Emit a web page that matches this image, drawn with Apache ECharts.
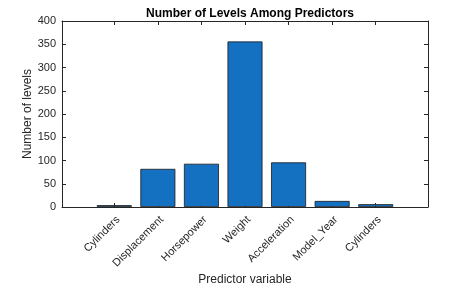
<!DOCTYPE html>
<html>
<head>
<meta charset="utf-8">
<script src="https://cdn.jsdelivr.net/npm/echarts@6/dist/echarts.min.js"></script>
<style>
  html, body { margin: 0; padding: 0; background: #fff; }
  #main { width: 474px; height: 285px; }
</style>
</head>
<body>
<div id="main"></div>
<script>
// 各预测变量的水平数
const predictors = ["Cylinders", "Displacement", "Horsepower", "Weight", "Acceleration", "Model_Year", "Cylinders"];
const levelCounts = [4, 82, 93, 356, 96, 13, 6];
const yTicks = [0, 50, 100, 150, 200, 250, 300, 350, 400];

const positions = predictors.map((p, i) => i + 1);
const axisColor = "#262626";
const font = "Liberation Sans, Arial, sans-serif";

const myChart = echarts.init(document.getElementById("main"));
const option = {
  animation: false,
  title: {
    text: "Number of Levels Among Predictors",
    left: 245,
    top: 3,
    textAlign: "center",
    textStyle: { fontFamily: font, fontSize: 12, fontWeight: "bold", color: "#000" }
  },
  grid: { left: 62, right: 46, top: 21, bottom: 78, outerBoundsMode: "none", containLabel: false },
  xAxis: [
    {
      type: "value",
      min: -0.2,
      max: 8.2,
      name: "Predictor variable",
      nameLocation: "middle",
      nameGap: 67,
      nameMoveOverlap: false,
      nameTextStyle: { fontFamily: font, fontSize: 12, color: axisColor },
      axisLine: { show: true, onZero: false, lineStyle: { color: axisColor, width: 1 } },
      axisTick: { inside: true, length: 4, customValues: positions, lineStyle: { color: axisColor } },
      axisLabel: {
        customValues: positions,
        rotate: 45,
        margin: 7,
        verticalAlign: "top",
        fontFamily: font,
        fontSize: 11,
        color: axisColor,
        formatter: v => predictors[Math.round(v) - 1] || ""
      },
      splitLine: { show: false }
    },
    {
      type: "value",
      position: "top",
      min: -0.2,
      max: 8.2,
      axisLine: { show: true, onZero: false, lineStyle: { color: axisColor, width: 1 } },
      axisTick: { inside: true, length: 4, customValues: positions, lineStyle: { color: axisColor } },
      axisLabel: { show: false },
      splitLine: { show: false }
    }
  ],
  yAxis: [
    {
      type: "value",
      min: 0,
      max: 400,
      interval: 50,
      name: "Number of levels",
      nameLocation: "middle",
      nameGap: 28,
      nameMoveOverlap: false,
      nameTextStyle: { fontFamily: font, fontSize: 12, color: axisColor },
      axisLine: { show: true, onZero: false, lineStyle: { color: axisColor, width: 1 } },
      axisTick: { show: true, inside: true, length: 4, lineStyle: { color: axisColor } },
      axisLabel: {
        fontFamily: font, fontSize: 11, color: axisColor, margin: 6,
        formatter: v => (yTicks.includes(v) ? String(v) : "")
      },
      splitLine: { show: false }
    },
    {
      type: "value",
      position: "right",
      min: 0,
      max: 400,
      interval: 50,
      axisLine: { show: true, onZero: false, lineStyle: { color: axisColor, width: 1 } },
      axisTick: { show: true, inside: true, length: 4, lineStyle: { color: axisColor } },
      axisLabel: { show: false },
      splitLine: { show: false }
    }
  ],
  series: [
    {
      type: "bar",
      xAxisIndex: 0,
      yAxisIndex: 0,
      barWidth: 35,
      itemStyle: { color: "#1470C0", borderColor: "#1a1a1a", borderWidth: 0.8 },
      data: positions.map((x, i) => [x, levelCounts[i]])
    }
  ]
};
myChart.setOption(option);
</script>
</body>
</html>
